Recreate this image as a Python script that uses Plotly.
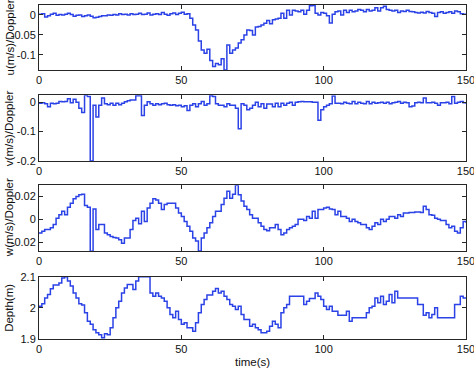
import plotly.graph_objects as go

time_s = list(range(151))

u_mps = [x * 1e-3 for x in [
    2, 3, -5, -2, 2, 4, -1, 1, 0, 2,
    4, 1, -3, -1, 0, -4, -2, 0, -3, -7,
    -6, -4, -2, -2, 0, -1, 1, 0, 3, 1,
    2, 0, 3, 1, 2, 4, 1, 2, 5, 0,
    2, 3, 1, 6, 2, -1, 3, 5, 1, 4,
    7, 2, 3, -8, -25, -38, -65, -88, -96, -86,
    -114, -129, -122, -125, -110, -138, -75, -96, -88, -83,
    -70, -62, -50, -38, -39, -50, -30, -29, -25, -21,
    -14, -22, -12, -10, -8, 4, -8, 12, 0, 12,
    10, 8, 12, 2, 12, 23, 24, 4, 0, 6,
    4, -2, -20, 2, 8, 10, 0, 12, 6, 12,
    8, 10, 14, 12, 8, 14, 10, 12, 18, 10,
    18, 22, 14, 12, 10, 12, 6, 10, 9, 12,
    9, 8, 6, 5, 7, 5, 9, 6, 4, -4,
    6, 8, 4, 6, 8, 4, 10, 8, 3, 2, 0]]

v_mps = [x * 1e-3 for x in [
    -3, -2, -5, -15, -3, -5, -3, 3, 2, 3,
    12, -2, 10, 0, -20, -35, 24, 20, -200, -10,
    -50, -10, 15, -5, -8, -3, -10, -3, -8, -3,
    2, 5, 8, 8, 22, 22, -45, -10, 2, -5,
    -10, -5, -8, -5, -3, -8, -10, -8, -12, -10,
    -15, -12, -28, -10, -5, -15, -5, 3, -10, -5,
    22, 20, -5, -10, -10, -15, -5, -10, -10, -20,
    -90, -5, -10, -25, -20, -10, 0, -15, -5, -20,
    -6, -6, -15, -3, -15, -3, -10, -3, 0, -10,
    0, 2, 3, 2, 2, 2, 0, 0, -61, -25,
    -15, -10, -5, 21, -3, -3, -5, 0, -3, -5,
    3, -5, 0, -3, -5, 3, -5, 0, -3, -2,
    0, -3, 0, -5, -2, 0, 3, -3, 0, -2,
    -15, -13, -2, 0, -2, 15, -2, -2, 0, -3,
    -10, -2, -2, 0, -5, 20, -3, 0, 3, -2, -5]]

w_mps = [x * 1e-3 for x in [
    -12, -10.5, -9, -9, -7.5, -4.5, 1, 4, 7, 4,
    10.5, 14, 18, 20, 21.5, 22, 12, 10.5, -28, 9,
    -9, -4.5, -4.5, -12, -13.5, -15, -16, -16.5, -18, -21,
    -16.5, -16.5, -9, -1, 1, -4, 7, -2, 10, 14,
    18, 17, 14, 8.5, 13, 14, 14, 14, 10, 5.5,
    2.5, -2, -6, -10.5, -16.5, -19, -27.7, -16.5, -12, -7.5,
    -3, 2.5, 7, 7, 13, 18.5, 24.5, 18.5, 22, 29.8,
    21.5, 16, 11.5, 8.5, 4, 1, 1, -3, -6, -9,
    -10, -7.5, -7.5, -4.5, -9, -13.5, -12, -9, -7.5, -6,
    -4.5, 0, 0, -1, 2.5, 1, 7, 1, 8.5, 8.5,
    10, 10.5, 9, 8.5, 4, 7, 2.5, 2.5, 1, -2,
    0, -2, -3, -4.5, -4.5, -7.5, -9, -6, -3, -4.5,
    0, -2, 0, 2.5, 2.5, 1, 4, 2.5, 5.5, 5.5,
    6, 6, 6.5, 6.5, 6, 11.5, 8.5, 4, 3.5, 1,
    0, -1, -1, -4.5, -7.5, -6, -10.5, -12, -7.5, -2, -3]]

depth_m = [
    2.005, 2.013, 2.032, 2.043, 2.061, 2.073, 2.073, 2.08, 2.096, 2.1,
    2.086, 2.07, 2.048, 2.032, 2.013, 2.009, 1.984, 1.957, 1.947, 1.93,
    1.92, 1.914, 1.904, 1.917, 1.914, 1.936, 1.968, 2.0, 2.021, 2.048,
    2.064, 2.075, 2.075, 2.059, 2.086, 2.1, 2.1, 2.1, 2.1, 2.048,
    2.037, 2.048, 2.037, 2.032, 2.021, 2.0, 1.979, 1.968, 1.989, 1.963,
    1.947, 1.952, 1.936, 1.936, 1.925, 1.952, 1.984, 2.011, 2.027, 2.041,
    2.041, 2.053, 2.062, 2.048, 2.053, 2.037, 2.027, 2.011, 2.005, 1.995,
    2.005, 1.979, 1.963, 1.963, 1.941, 1.947, 1.936, 1.93, 1.92, 1.92,
    1.925, 1.941, 1.957, 1.947, 1.936, 1.984, 2.0, 2.011, 2.037, 2.037,
    2.037, 2.037, 2.037, 2.011, 2.021, 2.03, 2.03, 2.048, 2.037, 2.027,
    2.005, 1.995, 2.005, 1.989, 1.989, 1.976, 1.976, 1.976, 1.989, 1.957,
    1.968, 1.968, 1.968, 1.968, 1.968, 1.984, 2.0, 2.005, 2.032, 2.016,
    2.037, 2.011, 2.021, 2.043, 2.016, 2.053, 2.032, 2.032, 2.032, 2.032,
    2.032, 2.032, 2.032, 2.011, 2.011, 1.976, 1.984, 1.968, 1.979, 2.0,
    1.968, 1.968, 1.968, 1.968, 1.968, 1.968, 2.011, 2.011, 2.037, 2.032, 2.032]

y_titles = ["u(m/s)/Doppler", "v(m/s)/Doppler", "w(m/s)/Doppler", "Depth(m)"]
x_title = "time(s)"
x_ticks = [0, 50, 100, 150]
y_tickvals = [[0, -0.05, -0.1], [0, -0.1, -0.2], [0.02, 0, -0.02], [1.9, 2, 2.1]]
y_ticktext = [["0", "-0.05", "-0.1"], ["0", "-0.1", "-0.2"], ["0.02", "0", "-0.02"], ["1.9", "2", "2.1"]]
y_ranges = [[-0.138, 0.025], [-0.2, 0.0238], [-0.0278, 0.0298], [1.9, 2.1]]

W, H = 474, 371
x_dom = [39 / W, 466 / W]
# pixel top/bottom of each panel
panels_px = [(5, 70), (95.3, 161), (185.3, 251), (276.7, 339)]

series = [u_mps, v_mps, w_mps, depth_m]
LINE = "#2b42e6"
AX = "#262626"
FONT = dict(family="Liberation Sans, Arial, Helvetica, sans-serif", size=11, color="#111111")

fig = go.Figure()
layout = dict(width=W, height=H, margin=dict(l=0, r=0, t=0, b=0, autoexpand=False),
              paper_bgcolor="white", plot_bgcolor="white", showlegend=False,
              font=FONT)
annotations = []
for i, (ys, (top, bot)) in enumerate(zip(series, panels_px)):
    n = "" if i == 0 else str(i + 1)
    fig.add_trace(go.Scatter(x=time_s, y=ys, mode="lines", line=dict(color=LINE, width=1.5, shape="hv"),
                             xaxis="x" + n, yaxis="y" + n, hoverinfo="skip"))
    ydom = [1 - bot / H, 1 - top / H]
    layout["xaxis" + n] = dict(domain=x_dom, anchor="y" + n, range=[0, 150], tickvals=x_ticks,
                               ticks="inside", ticklen=4, tickcolor=AX, showline=True, linecolor=AX,
                               linewidth=1, mirror="ticks", showgrid=False, zeroline=False,
                               tickfont=FONT, automargin=False, ticklabeloverflow="allow")
    layout["yaxis" + n] = dict(domain=ydom, anchor="x" + n, range=y_ranges[i], tickvals=y_tickvals[i],
                               ticktext=y_ticktext[i], ticks="inside", ticklen=4, tickcolor=AX,
                               showline=True, linecolor=AX, linewidth=1, mirror="ticks",
                               showgrid=False, zeroline=False, tickfont=FONT, automargin=False,
                               ticklabeloverflow="allow")
    annotations.append(dict(text=y_titles[i], x=9 / W, y=1 - (top + bot) / 2 / H, xref="paper", yref="paper",
                            textangle=-90, showarrow=False, xanchor="center", yanchor="middle",
                            font=dict(family=FONT["family"], size=11.5, color="#111111")))

annotations.append(dict(text=x_title, x=(x_dom[0] + x_dom[1]) / 2, y=1 - 362 / H, xref="paper", yref="paper",
                        showarrow=False, xanchor="center", yanchor="middle",
                        font=dict(family=FONT["family"], size=11.5, color="#111111")))
layout["annotations"] = annotations
fig.update_layout(**layout)
fig.write_html("out.html", config={"displayModeBar": False, "staticPlot": True},
               post_script="document.body.style.margin='0';document.body.style.overflow='hidden';")
